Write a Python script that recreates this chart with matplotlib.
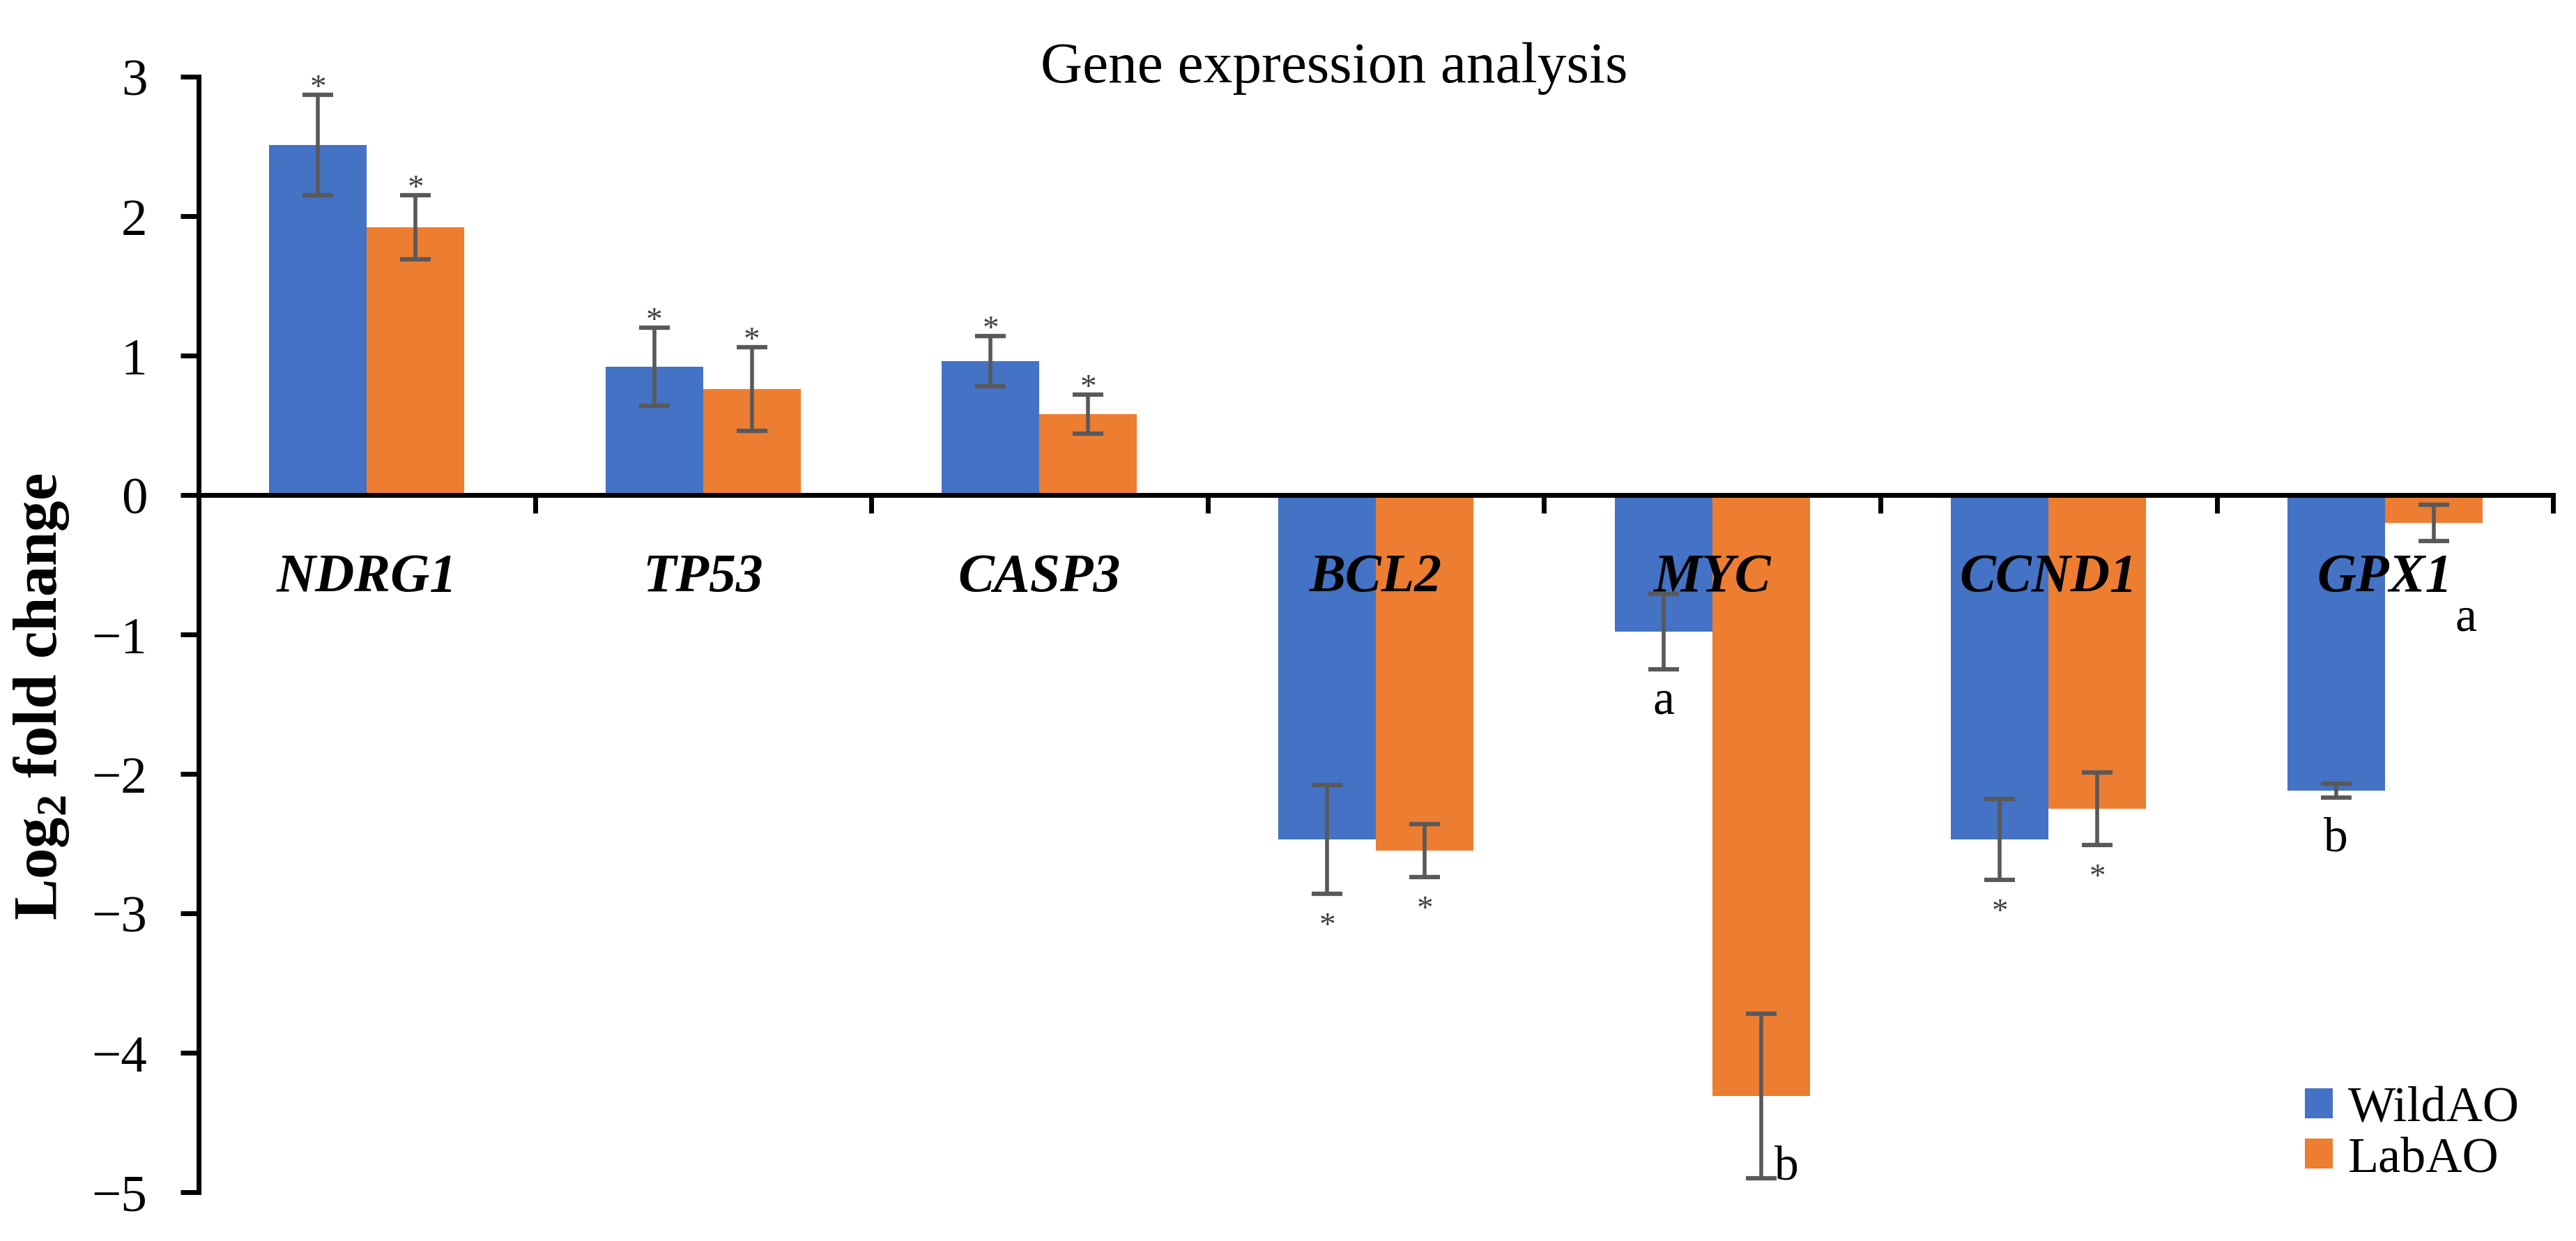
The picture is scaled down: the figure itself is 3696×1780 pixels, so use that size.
import matplotlib
matplotlib.use("Agg")
import matplotlib.pyplot as plt
import numpy as np

genes = ["NDRG1", "TP53", "CASP3", "BCL2", "MYC", "CCND1", "GPX1"]
wild_vals = [2.51, 0.92, 0.96, -2.47, -0.98, -2.47, -2.12]
wild_err = [0.36, 0.28, 0.18, 0.39, 0.27, 0.29, 0.05]
lab_vals = [1.92, 0.76, 0.58, -2.55, -4.31, -2.25, -0.20]
lab_err = [0.23, 0.30, 0.14, 0.19, 0.59, 0.26, 0.13]
wild_marks = ["*", "*", "*", "*", "a", "*", "b"]
lab_marks = ["*", "*", "*", "*", "b", "*", "a"]
series_names = ["WildAO", "LabAO"]
yticks = [-5, -4, -3, -2, -1, 0, 1, 2, 3]
title = "Gene expression analysis"

SERIF = ["Liberation Serif", "DejaVu Serif"]
plt.rcParams["font.family"] = SERIF
plt.rcParams["mathtext.fontset"] = "custom"
plt.rcParams["mathtext.rm"] = "Liberation Serif"
plt.rcParams["mathtext.bf"] = "Liberation Serif:bold"

BLUE = "#4472C4"
ORANGE = "#ED7D31"
ERR = "#595959"

fig = plt.figure(figsize=(36.96, 17.81), dpi=100)
ax = fig.add_axes([0.0771, 0.0393, 0.914, 0.8984])

x = np.arange(len(genes))
bw = 0.29
xw = x - bw / 2
xl = x + bw / 2
ax.bar(xw, wild_vals, width=bw, color=BLUE, label=series_names[0], zorder=1)
ax.bar(xl, lab_vals, width=bw, color=ORANGE, label=series_names[1], zorder=1)
ekw = dict(fmt="none", ecolor=ERR, elinewidth=4, capsize=16, capthick=4.5, zorder=3)
ax.errorbar(xw, wild_vals, yerr=wild_err, **ekw)
ax.errorbar(xl, lab_vals, yerr=lab_err, **ekw)

# letter placement (x shift, baseline drop below error-bar end, alignment)
letter_style = {
    ("w", 4): (0.0, 0.315, "center"),
    ("w", 6): (0.0, 0.38, "center"),
    ("l", 4): (0.04, 0.0, "left"),
    ("l", 6): (0.095, 0.64, "center"),
}

def mark(key, i, xp, v, e, m):
    if m == "*":
        if v >= 0:
            ax.text(xp, v + e - 0.01, "*", ha="center", va="baseline", fontsize=34,
                    color="#404040", zorder=4)
        else:
            ax.text(xp, v - e - 0.29, "*", ha="center", va="baseline", fontsize=34,
                    color="#404040", zorder=4)
    else:
        dx, drop, ha = letter_style[(key, i)]
        ax.text(xp + dx, v - e - drop, m, ha=ha, va="baseline", fontsize=50,
                color="black", zorder=4)

for i in range(len(genes)):
    mark("w", i, xw[i], wild_vals[i], wild_err[i], wild_marks[i])
    mark("l", i, xl[i], lab_vals[i], lab_err[i], lab_marks[i])

ax.set_xlim(-0.5, len(genes) - 0.5)
ax.set_ylim(-5, 3)
ax.set_yticks(yticks)
ax.set_yticklabels([("\u2212" + str(abs(t))) if t < 0 else str(t) for t in yticks], fontsize=54)

ax.spines["top"].set_visible(False)
ax.spines["right"].set_visible(False)
ax.spines["bottom"].set_position(("data", 0))
for s in ("left", "bottom"):
    ax.spines[s].set_linewidth(5)
ax.set_axisbelow(False)

ax.set_xticks(np.arange(len(genes) + 1) - 0.5)
ax.set_xticklabels([])
ax.set_xticks(x, minor=True)
ax.set_xticklabels(genes, minor=True, fontsize=56, fontweight="bold", fontstyle="italic")
ax.tick_params(axis="x", which="major", direction="out", length=19, width=5)
ax.tick_params(axis="x", which="minor", length=0, pad=60)
ax.tick_params(axis="y", direction="out", length=19, width=5, pad=34)

fig.text(0.016, 0.439, "Log$_\\mathbf{2}$ fold change", rotation=90, ha="center", va="center",
         fontsize=64, fontweight="bold")
fig.text(0.518, 0.945, title, ha="center", va="center", fontsize=60)

ax.legend(loc="upper left", bbox_to_anchor=(0.8948, 0.1247), bbox_transform=fig.transFigure,
          frameon=False, fontsize=52, borderpad=0, borderaxespad=0,
          handlelength=0.55, handleheight=0.55, handletextpad=0.3, labelspacing=0.1)

fig.savefig("out.png", dpi=100)
